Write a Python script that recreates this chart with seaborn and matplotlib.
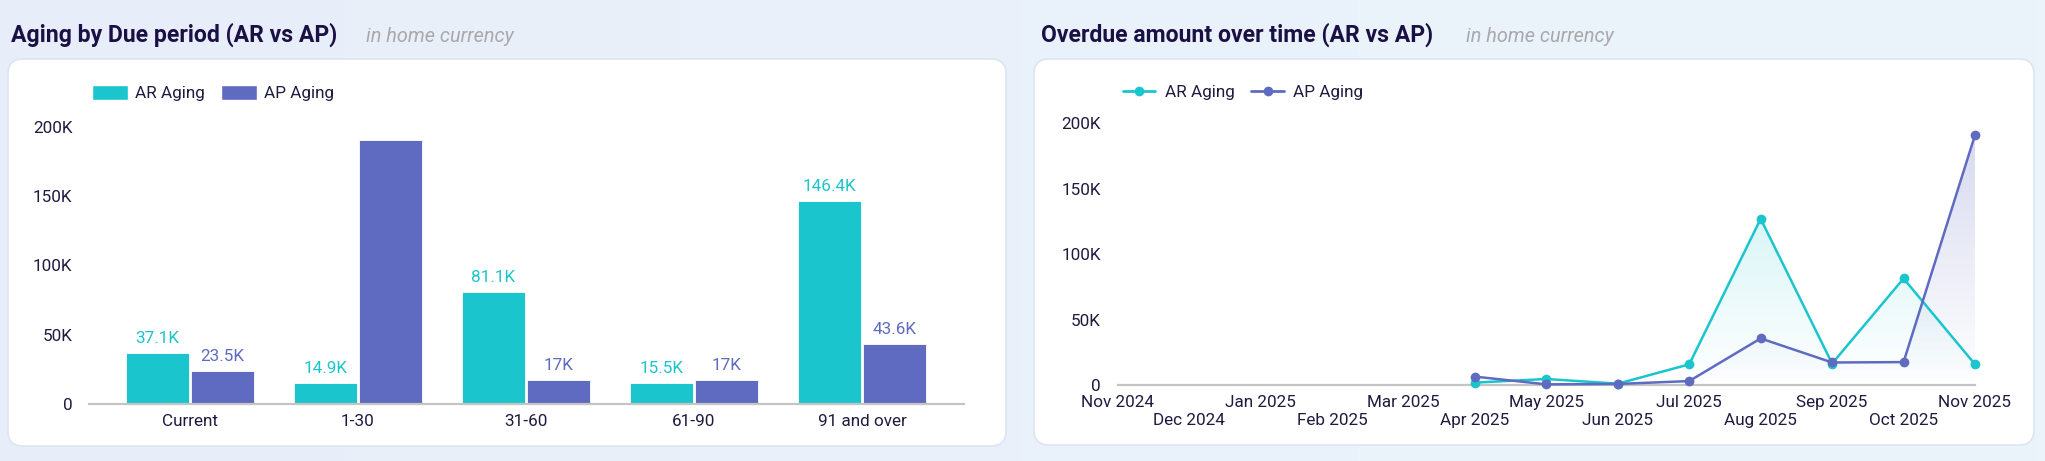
import numpy as np
import pandas as pd
import matplotlib
matplotlib.use("Agg")
import matplotlib.pyplot as plt
import matplotlib.colors as mcolors
from matplotlib.patches import FancyBboxPatch, Patch
from matplotlib.lines import Line2D
from matplotlib.ticker import FuncFormatter
import seaborn as sns

# ---- data ----
periods = ["Current", "1-30", "31-60", "61-90", "91 and over"]
ar_aging = [37100, 14900, 81100, 15500, 146400]
ap_aging = [23500, 190400, 17000, 17000, 43600]

months = ["Nov 2024", "Dec 2024", "Jan 2025", "Feb 2025", "Mar 2025", "Apr 2025", "May 2025",
          "Jun 2025", "Jul 2025", "Aug 2025", "Sep 2025", "Oct 2025", "Nov 2025"]
overdue_months = ["Apr 2025", "May 2025", "Jun 2025", "Jul 2025", "Aug 2025", "Sep 2025", "Oct 2025", "Nov 2025"]
ar_overdue = [1800, 4600, 1000, 15800, 127000, 16400, 81400, 15800]
ap_overdue = [6400, 500, 800, 3000, 35600, 17200, 17500, 191000]

series_names = ["AR Aging", "AP Aging"]

# ---- style ----
AR_COLOR = "#1bc5cd"
AP_COLOR = "#5e6bc0"
TEXT_DARK = "#1e1b3f"
TITLE_COLOR = "#1b1043"
SUB_COLOR = "#a9a9ad"
FS = 12.3

sns.set_theme(style="white")
plt.rcParams["font.family"] = ["Roboto", "DejaVu Sans"]

W, H = 2045, 461
fig = plt.figure(figsize=(W / 100, H / 100), dpi=100)

# background gradient
bg = fig.add_axes([0, 0, 1, 1], zorder=-10)
bg.axis("off")
c0, c1 = np.array(mcolors.to_rgb("#e8eef9")), np.array(mcolors.to_rgb("#ebf4fb"))
grad = np.linspace(0, 1, 256)[None, :, None] * (c1 - c0) + c0
bg.imshow(grad, aspect="auto", extent=[0, 1, 0, 1])

# white rounded panels (pixel coords -> inches)
def panel(x0, y0, x1, y1):
    p = FancyBboxPatch((x0 / 100, (H - y1) / 100), (x1 - x0) / 100, (y1 - y0) / 100,
                       boxstyle="round,pad=0,rounding_size=0.15",
                       transform=fig.dpi_scale_trans, facecolor="white",
                       edgecolor="#dce5f1", linewidth=1.2, zorder=-5)
    fig.patches.append(p)

panel(8, 59, 1006, 446)
panel(1034, 59, 2034, 445)

# titles
def title(x, text, sub_x):
    fig.text(x / W, (H - 42) / H, text, fontsize=16.6, fontweight="bold",
             color=TITLE_COLOR, va="baseline", ha="left")
    fig.text(sub_x / W, (H - 42) / H, "in home currency", fontsize=14.3,
             style="italic", color=SUB_COLOR, va="baseline", ha="left")

title(11, "Aging by Due period (AR vs AP)", 366)
title(1041, "Overdue amount over time (AR vs AP)", 1466)

k_fmt = FuncFormatter(lambda v, _: "0" if v == 0 else f"{int(v / 1000)}K")

def style_axis(ax):
    ax.set_facecolor("none")
    for s in ["top", "right", "left"]:
        ax.spines[s].set_visible(False)
    ax.spines["bottom"].set_color("#c4c4c4")
    ax.spines["bottom"].set_linewidth(1.6)
    ax.set_ylim(0, 200000)
    ax.set_yticks([0, 50000, 100000, 150000, 200000])
    ax.yaxis.set_major_formatter(k_fmt)
    ax.tick_params(axis="both", length=0, labelsize=FS, colors=TEXT_DARK)
    ax.tick_params(axis="y", pad=12)
    ax.tick_params(axis="x", pad=7)
    ax.set_xlabel("")
    ax.set_ylabel("")

# ---- left: grouped bars ----
ax1 = fig.add_axes([89 / W, (H - 404) / H, 875 / W, (404 - 126.7) / H])
bar_df = pd.DataFrame({
    "period": periods * 2,
    "series": [series_names[0]] * len(periods) + [series_names[1]] * len(periods),
    "value": ar_aging + ap_aging,
})
sns.barplot(data=bar_df, x="period", y="value", hue="series", ax=ax1,
            palette=[AR_COLOR, AP_COLOR], saturation=1, width=0.78, gap=0.04,
            legend=False, edgecolor="white", linewidth=0.6)
style_axis(ax1)
ax1.set_xlim(-0.601, 4.607)

def k_label(v):
    return f"{round(v / 1000, 1):g}K"

ar_labels = [k_label(v) for v in ar_aging]
ap_labels = [k_label(v) for v in ap_aging]
ap_labels[1] = ""  # tallest bar has no label in the source dashboard
ax1.bar_label(ax1.containers[0], labels=ar_labels, padding=5, fontsize=FS, color=AR_COLOR)
ax1.bar_label(ax1.containers[1], labels=ap_labels, padding=5, fontsize=FS, color=AP_COLOR)
for t in ax1.texts:
    t.set_clip_on(False)

ax1.legend(handles=[Patch(facecolor=AR_COLOR), Patch(facecolor=AP_COLOR)],
           labels=series_names, loc="center left",
           bbox_to_anchor=(92 / W, (H - 93) / H), bbox_transform=fig.transFigure,
           ncol=2, frameon=False, fontsize=FS, borderpad=0, borderaxespad=0,
           handlelength=2.1, handleheight=1.0, handletextpad=0.41, columnspacing=0.94,
           labelcolor=TEXT_DARK)

# ---- right: lines with gradient fill ----
ax2 = fig.add_axes([1117.7 / W, (H - 385) / H, 857.3 / W, (385 - 123.3) / H])
x_pos = [months.index(m) for m in overdue_months]
line_df = pd.DataFrame({
    "month": x_pos * 2,
    "series": [series_names[0]] * len(x_pos) + [series_names[1]] * len(x_pos),
    "value": ar_overdue + ap_overdue,
})

def gradient_fill(ax, x, y, color):
    poly = ax.fill_between(x, y, 0, color="none", linewidth=0)
    g = np.zeros((256, 1, 4))
    g[:, :, :3] = mcolors.to_rgb(color)
    g[:, 0, 3] = np.linspace(0.26, 0.0, 256)
    img = ax.imshow(g, aspect="auto", extent=[min(x), max(x), 0, 200000],
                    origin="upper", zorder=1)
    img.set_clip_path(poly.get_paths()[0], ax.transData)

gradient_fill(ax2, x_pos, ar_overdue, AR_COLOR)
gradient_fill(ax2, x_pos, ap_overdue, AP_COLOR)

sns.lineplot(data=line_df, x="month", y="value", hue="series", ax=ax2,
             palette=[AR_COLOR, AP_COLOR], marker="o", markersize=7,
             markeredgewidth=0, linewidth=1.8, legend=False, zorder=3)
for ln in ax2.lines:
    ln.set_clip_on(False)

style_axis(ax2)
ax2.set_xlim(0, 12)
ax2.set_xticks(range(len(months)))
ax2.set_xticklabels([m if i % 2 == 0 else "\n" + m for i, m in enumerate(months)])
for lbl in ax2.get_xticklabels():
    lbl.set_linespacing(1.3)

ax2.legend(handles=[Line2D([], [], color=AR_COLOR, marker="o", lw=2, ms=7, mew=0),
                    Line2D([], [], color=AP_COLOR, marker="o", lw=2, ms=7, mew=0)],
           labels=series_names, loc="center left",
           bbox_to_anchor=(1123 / W, (H - 92) / H), bbox_transform=fig.transFigure,
           ncol=2, frameon=False, fontsize=FS, borderpad=0, borderaxespad=0,
           handlelength=1.9, handletextpad=0.53, columnspacing=1.0,
           labelcolor=TEXT_DARK)

fig.savefig("out.png", dpi=100)
